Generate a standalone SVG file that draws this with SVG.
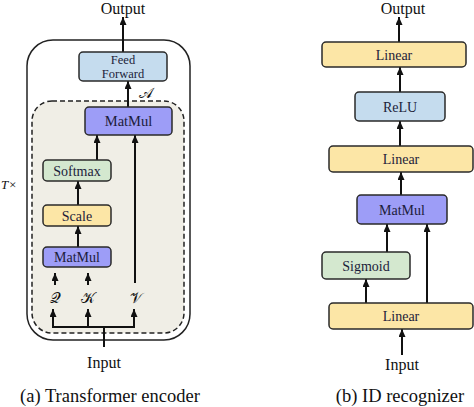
<svg xmlns="http://www.w3.org/2000/svg" width="474" height="407" viewBox="0 0 474 407">
<style>
text{font-family:"Liberation Serif","DejaVu Serif",serif;fill:#111;text-anchor:middle}
.lbl{font-size:16px}
.cap{font-size:18.5px}
.bx{font-size:14px;fill:#1c1c3a}
.box{stroke:#2a2a2a;stroke-width:1.5}
.y{fill:#fce6a6}.p{fill:#9d9df7}.b{fill:#c5dcee}.g{fill:#d4e8cf}
.ln{stroke:#111;stroke-width:2;fill:none}
.ar{stroke:#111;stroke-width:2;fill:none;marker-end:url(#ah)}
.m{font-family:"DejaVu Sans","Noto Sans",serif;font-size:15px}
</style>
<defs>
<marker id="ah" markerUnits="userSpaceOnUse" markerWidth="8" markerHeight="7" refX="8" refY="3.5" orient="auto">
<path d="M0,0 L8,3.5 L0,7 z" fill="#111"/>
</marker>
</defs>

<g id="encoder-frame">
<rect x="27" y="40" width="163" height="300" rx="26" fill="#fff" stroke="#222" stroke-width="1.5"/>
<rect x="32" y="101" width="152" height="232" rx="20" fill="#f0eee6" stroke="#222" stroke-width="1.5" stroke-dasharray="5,3"/>
<text x="1" y="189" style="font-size:13px;font-style:italic;text-anchor:start">T×</text>
</g>

<g id="connectors">
<line class="ar" x1="123" y1="52" x2="123" y2="17"/>
<line class="ar" x1="128" y1="107" x2="128" y2="81"/>
<line class="ar" x1="97" y1="160" x2="97" y2="135"/>
<line class="ar" x1="135" y1="283" x2="135" y2="135"/>
<line class="ar" x1="78" y1="205" x2="78" y2="181"/>
<line class="ar" x1="78" y1="247" x2="78" y2="226"/>
<line class="ar" x1="55" y1="285" x2="55" y2="273"/>
<line class="ar" x1="88" y1="285" x2="88" y2="273"/>
<polyline class="ln" points="53,311 53,327 134,327 134,311"/>
<line class="ar" x1="53" y1="327" x2="53" y2="309"/>
<line class="ar" x1="88" y1="327" x2="88" y2="309"/>
<line class="ar" x1="134" y1="327" x2="134" y2="309"/>
<line class="ln" x1="104" y1="327" x2="104" y2="347"/>

<line class="ar" x1="399" y1="42" x2="399" y2="17"/>
<line class="ar" x1="400" y1="92" x2="400" y2="67"/>
<line class="ar" x1="400" y1="146" x2="400" y2="121"/>
<line class="ar" x1="401" y1="195" x2="401" y2="172"/>
<line class="ar" x1="387" y1="252" x2="387" y2="224"/>
<line class="ar" x1="427" y1="303" x2="427" y2="224"/>
<line class="ar" x1="366" y1="303" x2="366" y2="279"/>
<line class="ar" x1="402" y1="355" x2="402" y2="329"/>
</g>

<g id="enc-output"><text class="lbl" x="123" y="14">Output</text></g>
<g id="feed-forward">
<rect class="box b" x="79" y="52" width="88" height="29" rx="4"/>
<text class="bx" x="123" y="64" style="font-size:12.5px">Feed</text>
<text class="bx" x="123" y="77.5" style="font-size:12.5px">Forward</text>
</g>
<g id="label-a"><text class="m" x="146" y="98">𝒜</text></g>
<g id="matmul-top">
<rect class="box p" x="85" y="107" width="87" height="28" rx="4"/>
<text class="bx" x="128.5" y="126" style="font-size:14.5px">MatMul</text>
</g>
<g id="softmax">
<rect class="box g" x="43" y="160" width="68" height="21" rx="4"/>
<text class="bx" x="77" y="175.5">Softmax</text>
</g>
<g id="scale">
<rect class="box y" x="43" y="205" width="68" height="21" rx="4"/>
<text class="bx" x="77" y="220.5">Scale</text>
</g>
<g id="matmul-small">
<rect class="box p" x="43" y="247" width="68" height="20" rx="4"/>
<text class="bx" x="77" y="262">MatMul</text>
</g>
<g id="qkv">
<text class="m" x="55" y="303">𝒬</text>
<text class="m" x="88" y="303">𝒦</text>
<text class="m" x="136" y="303">𝒱</text>
</g>
<g id="enc-input"><text class="lbl" x="104" y="368">Input</text></g>
<g id="caption-a"><text class="cap" x="110" y="402">(a) Transformer encoder</text></g>

<g id="id-output"><text class="lbl" x="403" y="14">Output</text></g>
<g id="linear-top">
<rect class="box y" x="322" y="42" width="144" height="25" rx="4"/>
<text class="bx" x="394" y="59.5">Linear</text>
</g>
<g id="relu">
<rect class="box b" x="355" y="92" width="90" height="29" rx="4"/>
<text class="bx" x="400" y="111.5">ReLU</text>
</g>
<g id="linear-mid">
<rect class="box y" x="329" y="146" width="144" height="26" rx="4"/>
<text class="bx" x="401" y="164">Linear</text>
</g>
<g id="matmul-id">
<rect class="box p" x="357" y="195" width="90" height="29" rx="4"/>
<text class="bx" x="402" y="214.5">MatMul</text>
</g>
<g id="sigmoid">
<rect class="box g" x="322" y="252" width="88" height="27" rx="4"/>
<text class="bx" x="366" y="270.5">Sigmoid</text>
</g>
<g id="linear-bottom">
<rect class="box y" x="329" y="303" width="144" height="26" rx="4"/>
<text class="bx" x="401" y="321">Linear</text>
</g>
<g id="id-input"><text class="lbl" x="402" y="370">Input</text></g>
<g id="caption-b"><text class="cap" x="400" y="402">(b) ID recognizer</text></g>
</svg>
